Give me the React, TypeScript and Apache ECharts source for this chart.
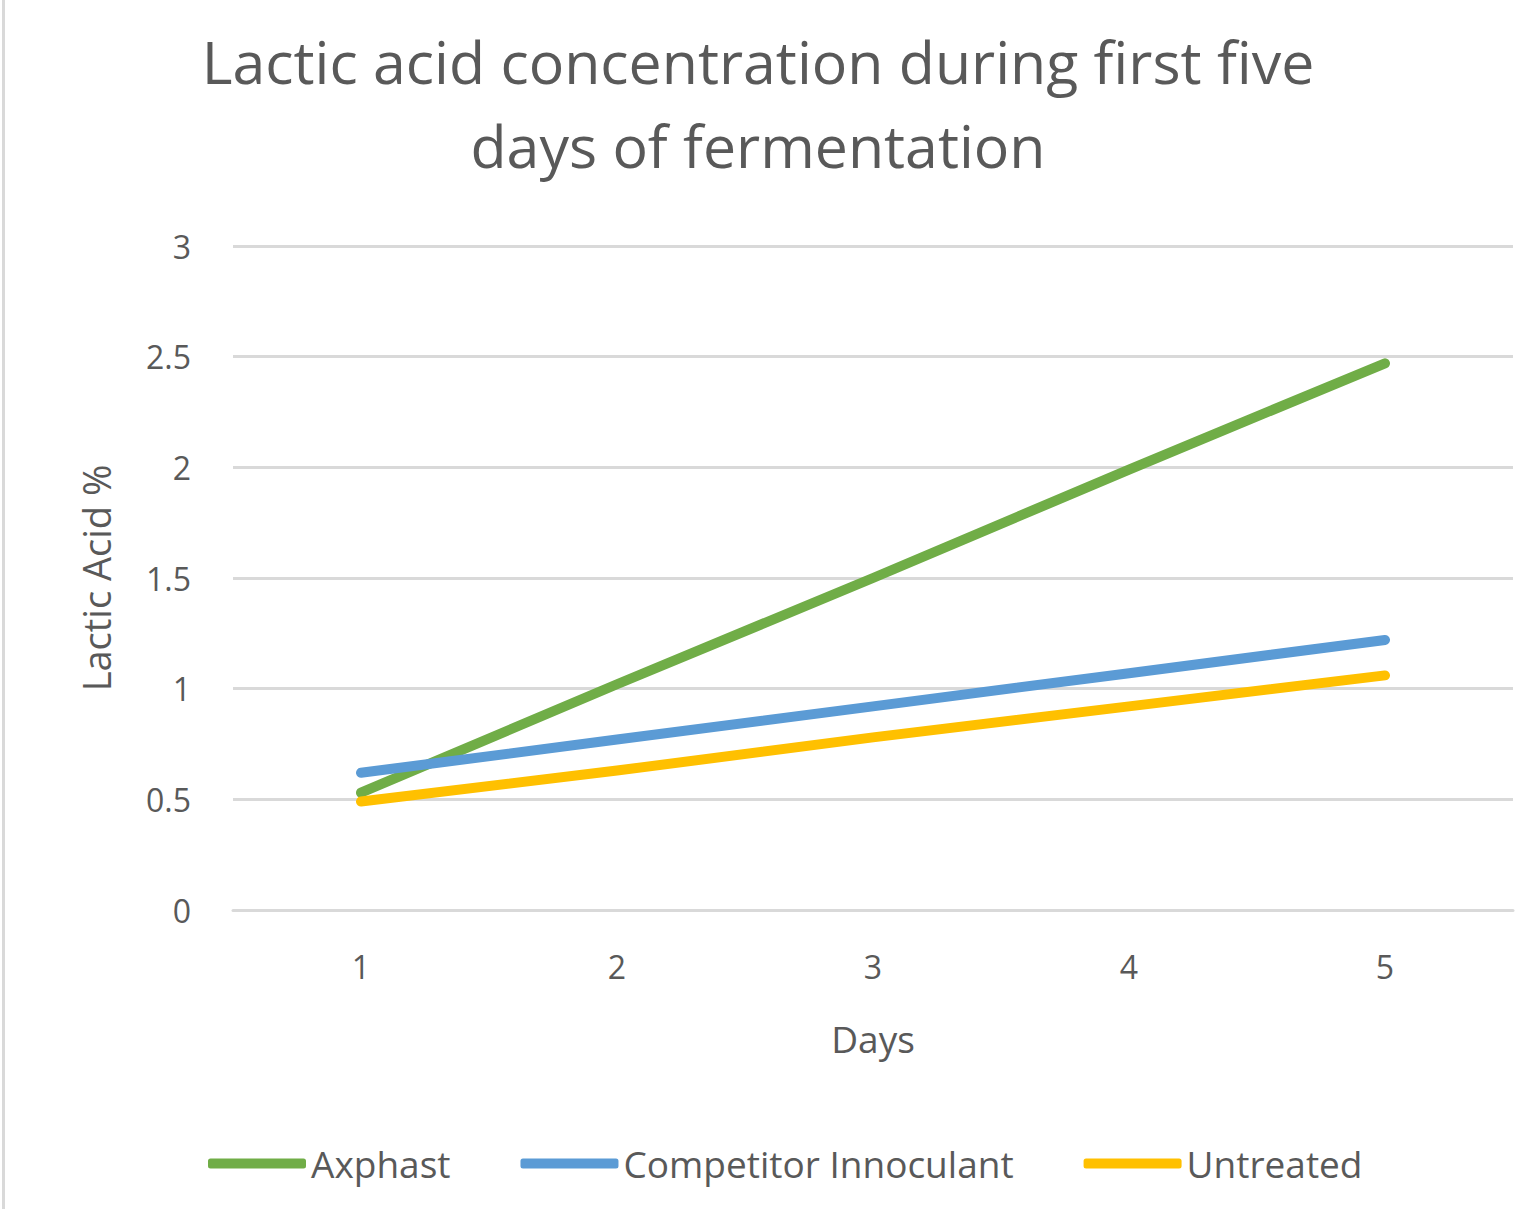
import React, { useEffect, useRef } from "react";
import * as echarts from "echarts";

const days = ["1", "2", "3", "4", "5"];
const axphast = [0.53, 1.02, 1.5, 1.99, 2.47];
const competitor = [0.62, 0.77, 0.92, 1.07, 1.22];
const untreated = [0.49, 0.63, 0.78, 0.92, 1.06];
const seriesNames = ["Axphast", "Competitor Innoculant", "Untreated"];
const colors = ["#70AD47", "#5B9BD5", "#FFC000"];

const FONT = "Open Sans";
const TXT = "#595959";

export default function App() {
  const ref = useRef<HTMLDivElement>(null);
  useEffect(() => {
    if (!ref.current) return;
    const chart = echarts.init(ref.current, undefined, { renderer: "svg" });
    const data = [axphast, competitor, untreated];
    chart.setOption({
      animation: false,
      backgroundColor: "#ffffff",
      textStyle: { fontFamily: FONT, color: TXT },
      title: {
        text: "Lactic acid concentration during first five\ndays of fermentation",
        left: 753,
        textAlign: "center",
        top: 14,
        textStyle: {
          fontFamily: FONT,
          fontSize: 59,
          fontWeight: "normal",
          color: TXT,
          lineHeight: 84,
        },
      },
      graphic: [
        {
          type: "rect",
          shape: { x: 2, y: 0, width: 3, height: 1209 },
          style: { fill: "#d9d9d9" },
          silent: true,
        },
      ],
      legend: {
        bottom: 22,
        left: 203,
        icon: "roundRect",
        itemWidth: 98,
        itemHeight: 10,
        itemGap: 70,
        textStyle: { fontFamily: FONT, fontSize: 37, color: TXT },
        data: seriesNames,
      },
      grid: { left: 233, right: 12, top: 246, bottom: 299 },
      xAxis: {
        type: "category",
        data: days,
        boundaryGap: true,
        name: "Days",
        nameLocation: "middle",
        nameGap: 110,
        nameTextStyle: { fontFamily: FONT, fontSize: 37, color: TXT },
        axisLine: { show: true, lineStyle: { color: "#d9d9d9", width: 3 } },
        axisTick: { show: false },
        axisLabel: { fontFamily: FONT, fontSize: 32, color: TXT, margin: 40 },
      },
      yAxis: {
        type: "value",
        min: 0,
        max: 3,
        interval: 0.5,
        name: "Lactic Acid %",
        nameLocation: "middle",
        nameGap: 118,
        nameTextStyle: { fontFamily: FONT, fontSize: 38, color: TXT },
        axisLine: { show: false },
        axisTick: { show: false },
        axisLabel: { fontFamily: FONT, fontSize: 32, color: TXT, margin: 42 },
        splitLine: { lineStyle: { color: "#d9d9d9", width: 3 } },
      },
      series: seriesNames.map((name, i) => ({
        name,
        type: "line",
        data: data[i],
        showSymbol: false,
        symbol: "none",
        color: colors[i],
        lineStyle: { color: colors[i], width: 10, cap: "round", join: "round" },
      })),
    });
    return () => chart.dispose();
  }, []);
  return (
    <div
      ref={ref}
      style={{ position: "fixed", left: 0, top: 0, width: 1525, height: 1209 }}
    />
  );
}
